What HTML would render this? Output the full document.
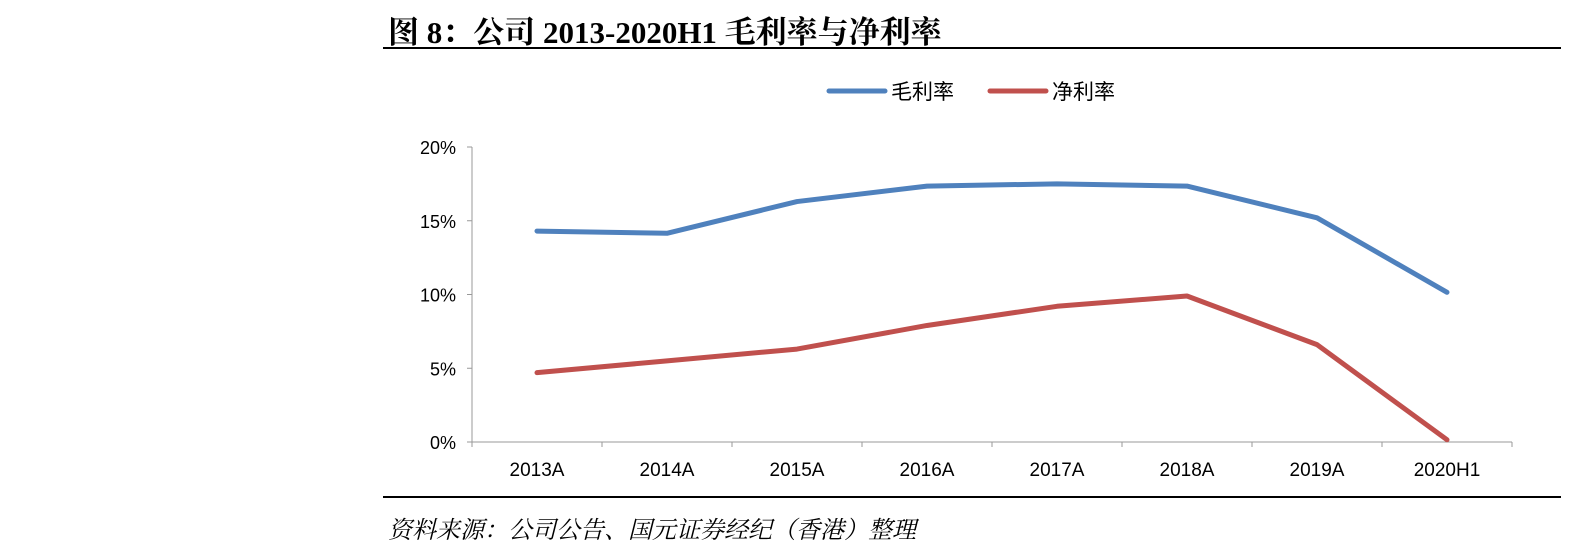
<!DOCTYPE html>
<html><head><meta charset="utf-8"><style>
body{margin:0;width:1582px;height:555px;background:#fff;overflow:hidden;position:relative}
.t{position:absolute;white-space:nowrap}
</style></head><body>
<div class="t" style="left:388px;top:7px;font:bold 31px 'Liberation Serif','Noto Serif CJK SC',serif;color:#000">图 8：公司 2013-2020H1 毛利率与净利率</div>
<div style="position:absolute;left:383px;top:47px;width:1178px;height:2px;background:#000"></div>
<div style="position:absolute;left:383px;top:496px;width:1178px;height:2px;background:#000"></div>
<div class="t" style="left:388px;top:510px;font:italic 24px 'Liberation Serif','Noto Serif CJK SC',serif;color:#000">资料来源：公司公告、国元证券经纪（香港）整理</div>
<svg id="c" width="1582" height="555" style="position:absolute;left:0;top:0"></svg>
<script>
const categories=["2013A","2014A","2015A","2016A","2017A","2018A","2019A","2020H1"];
const grossMargin=[14.3,14.15,16.3,17.35,17.5,17.35,15.2,10.15];
const netMargin=[4.7,5.5,6.3,7.9,9.2,9.9,6.6,0.15];
const yTicks=[0,5,10,15,20];
const ns="http://www.w3.org/2000/svg",svg=document.getElementById('c');
const x0=472,x1=1512,y0=442,y1=147;
const bw=(x1-x0)/categories.length;
const X=i=>x0+bw*(i+0.5), Y=v=>y0-(v/20)*(y0-y1);
function mk(t,a){const e=document.createElementNS(ns,t);for(const k in a)e.setAttribute(k,a[k]);svg.appendChild(e);return e;}
let e=mk('line',{x1:x0,y1:y1,x2:x0,y2:y0,stroke:'#999'});


e=mk('line',{x1:x0,y1:y0,x2:x1,y2:y0,stroke:'#999'});


yTicks.forEach(v=>{
 const t=mk('line',{x1:x0-5,y1:Y(v),x2:x0,y2:Y(v),stroke:'#999'});
 
 
 const l=mk('text',{x:x0-16,y:Y(v)+7,'text-anchor':'end','font-family':'Liberation Sans, sans-serif','font-size':18,fill:'#000'});
 l.textContent=v+'%';
 
 
});
for(let i=0;i<=categories.length;i++){
 const t=mk('line',{x1:x0+bw*i,y1:y0,x2:x0+bw*i,y2:y0+5,stroke:'#999'});
 
 
}
categories.forEach((c,i)=>{
 const l=mk('text',{x:X(i),y:476,'text-anchor':'middle','font-family':'Liberation Sans, sans-serif','font-size':19,fill:'#000'});
 l.textContent=c;
 
 
});
function line(d,col,name){
 const p=mk('polyline',{points:d.map((v,i)=>X(i)+','+Y(v)).join(' '),fill:'none',stroke:col,'stroke-width':5,'stroke-linejoin':'round','stroke-linecap':'round'});
 
 
}
line(grossMargin,'#4f81bd','gross-margin-line');
line(netMargin,'#c0504d','net-margin-line');
[['#4f81bd','毛利率',829],['#c0504d','净利率',990]].forEach(([c,t,x])=>{
 const l=mk('line',{x1:x,y1:91,x2:x+56,y2:91,stroke:c,'stroke-width':5,'stroke-linecap':'round'});
 
 
 const tx=mk('text',{x:x+62,y:99,'font-family':'Liberation Sans, Noto Sans CJK SC, sans-serif','font-size':21,fill:'#000'});
 tx.textContent=t;
 
 
});
</script>
</body></html>
